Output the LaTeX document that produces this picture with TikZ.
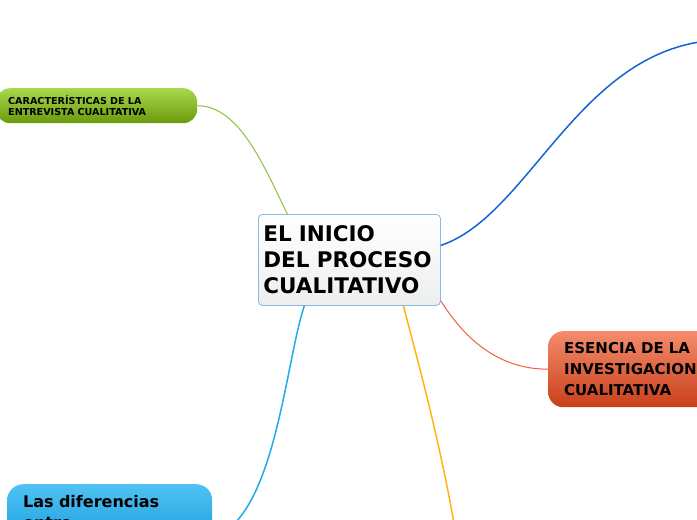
\documentclass[tikz,border=0pt]{standalone}
\usepackage{fontspec}
\setmainfont{DejaVu Sans}
\usetikzlibrary{calc}

% Colores del mapa
\definecolor{bordeCentro}{HTML}{84BEE6}
\definecolor{grisCentro}{HTML}{ECEEF0}
\definecolor{verdeClaro}{HTML}{A8D84C}
\definecolor{verdeOscuro}{HTML}{6A9A0C}
\definecolor{verdeLinea}{HTML}{8CC43A}
\definecolor{naranjaClaro}{HTML}{F48C6C}
\definecolor{naranjaOscuro}{HTML}{C8401A}
\definecolor{naranjaLinea}{HTML}{F0603A}
\definecolor{celesteClaro}{HTML}{50C2F2}
\definecolor{celesteOscuro}{HTML}{1EA0E0}
\definecolor{celesteLinea}{HTML}{22AAEA}
\definecolor{azulLinea}{HTML}{1464D2}
\definecolor{amarilloLinea}{HTML}{FFB414}

\tikzset{
  nodocentral/.style={draw=bordeCentro, line width=0.8pt, rounded corners=4pt,
    top color=white, bottom color=grisCentro, anchor=north west,
    text width=172pt, inner xsep=5pt, inner ysep=2pt, minimum height=91pt,
    align=left, font=\bfseries\fontsize{21.5}{26}\selectfont},
  ramaverde/.style={top color=verdeClaro, bottom color=verdeOscuro,
    rounded corners=14pt, anchor=north west, text width=177pt,
    inner xsep=12pt, inner ysep=2pt, minimum height=35pt, align=left,
    font=\bfseries\fontsize{9.6}{11.7}\selectfont},
  ramanaranja/.style={top color=naranjaClaro, bottom color=naranjaOscuro,
    rounded corners=15pt, anchor=north west, text width=170pt,
    inner xsep=16pt, inner ysep=2pt, minimum height=76pt, align=left,
    font=\bfseries\fontsize{15}{21}\selectfont},
  ramaceleste/.style={top color=celesteClaro, bottom color=celesteOscuro,
    rounded corners=16pt, anchor=north west, text width=173pt,
    inner xsep=16pt, inner ysep=11pt, align=left,
    font=\bfseries\fontsize{16}{21}\selectfont},
  conector/.style={draw=#1, line width=1.2pt}
}

\begin{document}
\begin{tikzpicture}[x=1pt,y=-1pt]
  % Marco de la imagen
  \useasboundingbox (0,0) rectangle (697,520);
  \fill[white] (0,0) rectangle (697,520);
  \clip (0,0) rectangle (697,520);

  % Extremos fuera de la imagen
  \coordinate (finAzul) at (720,40);
  \coordinate (finAmarillo) at (460,560);

  % Nodos
  \node[nodocentral] (centro) at (258,214) {EL INICIO\\DEL PROCESO\\CUALITATIVO};
  \node[ramaverde] (caracteristicas) at (-4,88) {CARACTERÍSTICAS DE LA\\ENTREVISTA CUALITATIVA};
  \node[ramanaranja] (esencia) at (548,331) {ESENCIA DE LA\\INVESTIGACION\\CUALITATIVA};
  \node[ramaceleste] (diferencias) at (7,484) {Las diferencias\\entre};

  % Conectores
  \draw[conector=verdeLinea, line width=1pt] (caracteristicas.east)
    .. controls +(43,0) and +(-22,-44) .. ([xshift=-62pt]centro.north);
  \draw[conector=azulLinea, line width=1.5pt] ([yshift=14.5pt]centro.east)
    .. controls +(90,-30) and +(-140,5) .. (finAzul);
  \draw[conector=naranjaLinea, line width=1pt] ([yshift=5pt]centro.south east)
    .. controls +(25,40) and +(-48,0) .. (esencia.west);
  \draw[conector=amarilloLinea, line width=1.5pt] ([xshift=54pt]centro.south)
    .. controls +(17,65) and +(-15,-100) .. (finAmarillo);
  \draw[conector=celesteLinea, line width=1.5pt] ([xshift=-45pt]centro.south)
    .. controls +(-19,55) and +(63,-20) .. ([yshift=-26pt]diferencias.east);
\end{tikzpicture}
\end{document}
